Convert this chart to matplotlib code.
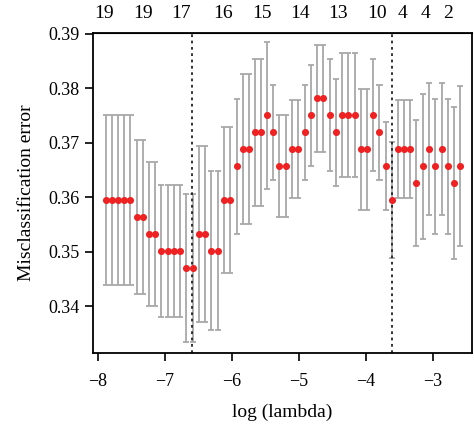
import matplotlib
matplotlib.use("Agg")
import matplotlib.pyplot as plt

plt.rcParams['font.family'] = ['Liberation Serif', 'DejaVu Serif']

log_lambda = [-7.88, -7.79, -7.70, -7.60, -7.51, -7.42, -7.33, -7.23, -7.14, -7.05,
              -6.95, -6.86, -6.77, -6.68, -6.58, -6.49, -6.40, -6.31, -6.21, -6.12,
              -6.03, -5.93, -5.84, -5.75, -5.66, -5.56, -5.47, -5.38, -5.29, -5.19,
              -5.10, -5.01, -4.91, -4.82, -4.73, -4.64, -4.54, -4.45, -4.36, -4.27,
              -4.17, -4.08, -3.99, -3.89, -3.80, -3.71, -3.62, -3.52, -3.43, -3.34,
              -3.25, -3.15, -3.06, -2.97, -2.87, -2.78, -2.69, -2.60]
cv_mean = [0.3594, 0.3594, 0.3594, 0.3594, 0.3594, 0.3563, 0.3563, 0.3532, 0.3532, 0.3501,
           0.3501, 0.3501, 0.3501, 0.3470, 0.3470, 0.3532, 0.3532, 0.3501, 0.3501, 0.3594,
           0.3594, 0.3657, 0.3688, 0.3688, 0.3719, 0.3719, 0.3750, 0.3719, 0.3657, 0.3657,
           0.3688, 0.3688, 0.3719, 0.3750, 0.3781, 0.3781, 0.3750, 0.3719, 0.3750, 0.3750,
           0.3750, 0.3688, 0.3688, 0.3750, 0.3719, 0.3657, 0.3594, 0.3688, 0.3688, 0.3688,
           0.3625, 0.3657, 0.3688, 0.3657, 0.3688, 0.3657, 0.3625, 0.3657]
cv_upper = [0.3750, 0.3750, 0.3750, 0.3750, 0.3750, 0.3705, 0.3705, 0.3664, 0.3664, 0.3622,
            0.3622, 0.3622, 0.3622, 0.3605, 0.3605, 0.3694, 0.3694, 0.3647, 0.3647, 0.3728,
            0.3728, 0.3780, 0.3826, 0.3826, 0.3853, 0.3853, 0.3885, 0.3806, 0.3750, 0.3750,
            0.3778, 0.3778, 0.3806, 0.3843, 0.3879, 0.3879, 0.3853, 0.3817, 0.3864, 0.3864,
            0.3864, 0.3799, 0.3799, 0.3853, 0.3806, 0.3738, 0.3701, 0.3778, 0.3778, 0.3778,
            0.3741, 0.3789, 0.3809, 0.3780, 0.3809, 0.3780, 0.3766, 0.3804]
cv_lower = [0.3439, 0.3439, 0.3439, 0.3439, 0.3439, 0.3423, 0.3423, 0.3401, 0.3401, 0.3380,
            0.3380, 0.3380, 0.3380, 0.3335, 0.3335, 0.3371, 0.3371, 0.3356, 0.3356, 0.3461,
            0.3461, 0.3533, 0.3550, 0.3550, 0.3584, 0.3584, 0.3615, 0.3632, 0.3563, 0.3563,
            0.3598, 0.3598, 0.3632, 0.3657, 0.3683, 0.3683, 0.3647, 0.3621, 0.3637, 0.3637,
            0.3637, 0.3576, 0.3576, 0.3647, 0.3632, 0.3576, 0.3488, 0.3598, 0.3598, 0.3598,
            0.3510, 0.3524, 0.3567, 0.3533, 0.3567, 0.3533, 0.3486, 0.3510]
top_pos = [-7.90, -7.33, -6.75, -6.13, -5.55, -4.99, -4.42, -3.84, -3.46, -3.12, -2.78]
top_labels = ['19', '19', '17', '16', '15', '14', '13', '10', '4', '4', '2']
vlines = [-6.59, -3.62]

fig = plt.figure(figsize=(4.74, 4.28), dpi=100)
ax = fig.add_axes([0.196, 0.175, 0.80, 0.748])

ax.vlines(log_lambda, cv_lower, cv_upper, color='#a8a8a8', lw=1.3, zorder=1)
ax.hlines(cv_lower, [x - 0.045 for x in log_lambda], [x + 0.045 for x in log_lambda], color='#a8a8a8', lw=1.3, zorder=1)
ax.hlines(cv_upper, [x - 0.045 for x in log_lambda], [x + 0.045 for x in log_lambda], color='#a8a8a8', lw=1.3, zorder=1)
ax.scatter(log_lambda, cv_mean, s=26, color='#ee2222', zorder=3, linewidths=0)
for v in vlines:
    ax.axvline(v, color='#222222', ls=(0, (1.5, 2)), lw=1.3, zorder=2)

ax.set_xlim(-8.07, -2.42)
ax.set_ylim(0.3314, 0.3901)
ax.set_xticks([-8, -7, -6, -5, -4, -3])
ax.set_xticklabels(['\u22128', '\u22127', '\u22126', '\u22125', '\u22124', '\u22123'])
ax.set_yticks([0.34, 0.35, 0.36, 0.37, 0.38, 0.39])
ax.tick_params(labelsize=13, direction='out', length=6, width=1.2)
ax.tick_params(axis='x', pad=8)
ax.set_xlabel('log (lambda)', fontsize=14, labelpad=10)
ax.set_ylabel('Misclassification error', fontsize=14, labelpad=10)
for s in ax.spines.values():
    s.set_linewidth(1.3)

sec = ax.secondary_xaxis('top')
sec.set_xticks(top_pos)
sec.set_xticklabels(top_labels)
sec.tick_params(length=0, labelsize=14, pad=8)

fig.savefig('out.png', dpi=100)
